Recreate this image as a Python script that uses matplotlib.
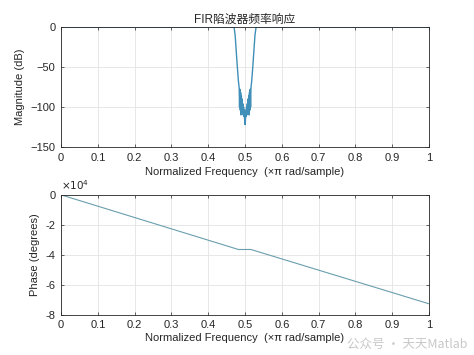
import matplotlib.pyplot as plt
from matplotlib.ticker import FuncFormatter

plt.rcParams['font.family'] = ['Liberation Sans', 'Noto Sans CJK SC', 'DejaVu Sans']

# magnitude response (dB)
mag_freq = [0.0, 0.470, 0.473, 0.476, 0.479, 0.482, 0.484, 0.485, 0.486, 0.487, 0.488,
            0.489, 0.490, 0.491, 0.492, 0.493, 0.494, 0.495, 0.496, 0.497, 0.498,
            0.499, 0.500, 0.501, 0.502, 0.503, 0.504, 0.505, 0.506, 0.507, 0.508,
            0.509, 0.510, 0.511, 0.512, 0.513, 0.514, 0.515, 0.516, 0.518, 0.521,
            0.524, 0.527, 0.530, 1.0]
mag_db = [0, 0, -10, -30, -50, -68, -76, -100, -78, -104, -82, -110, -86, -106, -90,
          -104, -96, -110, -100, -112, -104, -118, -122, -118, -104, -112, -100, -110,
          -96, -104, -90, -106, -86, -110, -82, -104, -78, -100, -76, -68, -50,
          -30, -10, 0, 0]

# unwrapped phase (degrees)
ph_freq = [0.0, 0.482, 0.516, 1.0]
ph_deg = [0, -36400, -36400, -72600]

line_c = '#3f8fb8'
phase_c = '#6a9fae'

fig = plt.figure(figsize=(4.74, 3.55), dpi=100)
ax1 = fig.add_axes([0.129, 0.586, 0.776, 0.338])
ax2 = fig.add_axes([0.129, 0.113, 0.776, 0.338])

ax1.plot(mag_freq, mag_db, color=line_c, lw=1.0)
ax1.set_xlim(0, 1)
ax1.set_ylim(-150, 0)
ax1.set_yticks([-150, -100, -50, 0])
ax1.set_ylabel('Magnitude (dB)', fontsize=8, color='#262626')
ax1.set_xlabel('Normalized Frequency  (\u00d7\u03c0 rad/sample)', fontsize=8, color='#262626', labelpad=3)
ax1.set_title('FIR陷波器频率响应', fontsize=8.5, color='#262626', pad=3)

ax2.plot(ph_freq, ph_deg, color=phase_c, lw=0.8)
ax2.set_xlim(0, 1)
ax2.set_ylim(-80000, 0)
ax2.set_yticks([-80000, -60000, -40000, -20000, 0])
ax2.yaxis.set_major_formatter(FuncFormatter(lambda v, p: '%d' % round(v / 1e4)))
ax2.text(0.0, 1.02, r'$\times10^4$', transform=ax2.transAxes, fontsize=7.5,
         color='#262626', ha='left', va='bottom')
ax2.set_ylabel('Phase (degrees)', fontsize=8, color='#262626')
ax2.set_xlabel('Normalized Frequency  (\u00d7\u03c0 rad/sample)', fontsize=8, color='#262626', labelpad=2)

for ax in (ax1, ax2):
    ax.set_xticks([0, 0.1, 0.2, 0.3, 0.4, 0.5, 0.6, 0.7, 0.8, 0.9, 1])
    ax.set_xticklabels(['0', '0.1', '0.2', '0.3', '0.4', '0.5', '0.6', '0.7', '0.8', '0.9', '1'])
    ax.grid(True, color='#e3e3e3', lw=0.6)
    ax.set_axisbelow(True)
    ax.tick_params(direction='in', length=2.5, width=0.5, labelsize=8, colors='#262626',
                   top=True, right=True, pad=4)
    for s in ax.spines.values():
        s.set_linewidth(0.6)
        s.set_color('#262626')

fig.text(0.985, 0.012, '公众号 · 天天Matlab', fontsize=9, color='#c8c8c8',
         ha='right', va='bottom', family=['Noto Sans CJK SC', 'DejaVu Sans'])

fig.savefig('out.png', dpi=100)
